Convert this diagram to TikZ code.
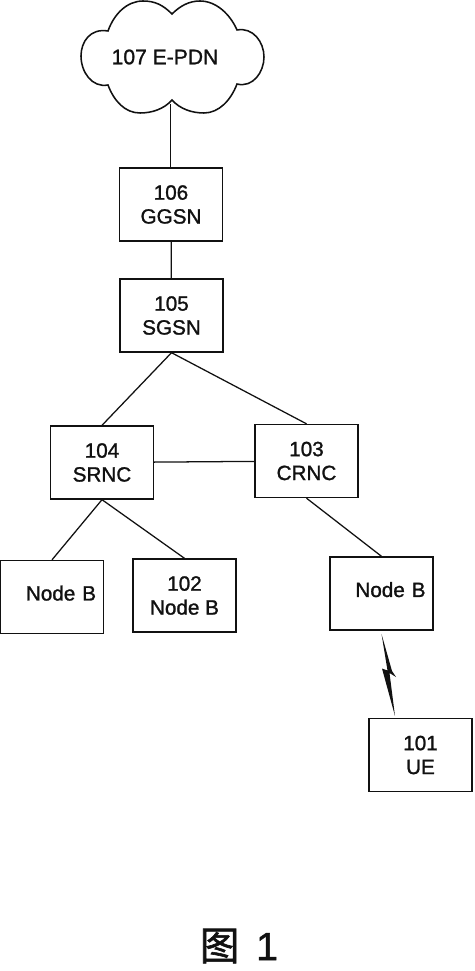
\documentclass[tikz,border=0pt]{standalone}
\usepackage{fontspec}
\setmainfont{Liberation Sans}
\newfontfamily\labelfont[FakeBold=1.2]{Liberation Sans}
\newfontfamily\cjkfont[FakeBold=1.5]{Noto Sans CJK SC}
\usetikzlibrary{positioning}
\definecolor{ink}{HTML}{111111}
\tikzset{
  netbox/.style={
    rectangle, draw=ink, line width=0.95pt, fill=white,
    text=ink, font=\labelfont\fontsize{14.7}{17}\selectfont,
    minimum width=2.575cm, minimum height=1.825cm,
    align=center, inner sep=0pt
  },
  nodebbox/.style={netbox, text width=2.2cm, align=right, text depth=0.2cm},
  lnk/.style={line width=0.9pt, ink}
}
\begin{document}
\begin{tikzpicture}[x=0.025cm, y=-0.025cm]
\useasboundingbox (0,0) rectangle (474,971);

% ── Cloud ─────────────────────────────────────────────────────────
\draw[lnk, line width=1.1pt]
  (172,14) .. controls (163,5) and (155,1) .. (143,1)
  .. controls (127,1) and (114,14) .. (108,31)
  .. controls (90,28) and (81,42) .. (81,56)
  .. controls (81,72) and (92,88) .. (108,85)
  .. controls (114,101) and (125,113) .. (140,113)
  .. controls (152,113) and (164,109) .. (172,100)
  .. controls (180,109) and (192,113) .. (204,113)
  .. controls (219,113) and (231,100) .. (237,84)
  .. controls (253,88) and (264,72) .. (264,57)
  .. controls (264,42) and (253,27) .. (237,30)
  .. controls (230,14) and (216,1) .. (200,1)
  .. controls (189,1) and (180,6) .. (172,14) -- cycle;
\node[font=\labelfont\fontsize{15}{17}\selectfont, text=ink] (epdn) at (165,57) {107 E-PDN};
\coordinate (cloudbot) at (170.5,104);

% ── Core network ──────────────────────────────────────────────────
\node[netbox] (ggsn) at (171,204.5) {106\\GGSN};
\node[netbox] (sgsn) at (171.5,315.5) {105\\SGSN};

% ── Radio controllers ─────────────────────────────────────────────
\node[netbox] (srnc) at (102,462.5) {104\\SRNC};
\node[netbox] (crnc) at (306.5,461) {103\\CRNC};

% ── Base stations ─────────────────────────────────────────────────
\node[nodebbox] (nbleft) at (52,597) {Node B};
\node[netbox] (nbmid) at (184.5,595.5) {102\\Node B};
\node[nodebbox] (nbright) at (381.5,593.5) {Node B};

% ── Terminal ──────────────────────────────────────────────────────
\node[netbox] (ue) at (420.5,755) {101\\UE};

% ── Wired links ───────────────────────────────────────────────────
\draw[lnk] (cloudbot) -- (ggsn.north -| cloudbot);
\draw[lnk] (ggsn) -- (sgsn);
\draw[lnk] (sgsn.south) -- (srnc.north);
\draw[lnk] (sgsn.south) -- (crnc.north);
\draw[lnk] (srnc) -- (crnc);
\draw[lnk] (srnc.south) -- (nbleft.north);
\draw[lnk] (srnc.south) -- (nbmid.north);
\draw[lnk] (crnc.south) -- (nbright.north);

% ── Radio link ────────────────────────────────────────────────────
\coordinate (ltop) at ([yshift=-0.08cm]nbright.south);
\coordinate (lbot) at (395,716);
\fill[ink] (ltop) -- (392,671) -- (396,677) -- (389.5,673) -- (lbot) -- (382,668.5) -- (387.5,670.5) -- cycle;

% ── Caption ───────────────────────────────────────────────────────
\node[text=ink, font=\fontsize{28}{30}\selectfont, inner sep=0pt] (figcap) at (239,946)
  {{\cjkfont 图}\hspace{0.42cm}\labelfont 1};

\end{tikzpicture}
\end{document}
